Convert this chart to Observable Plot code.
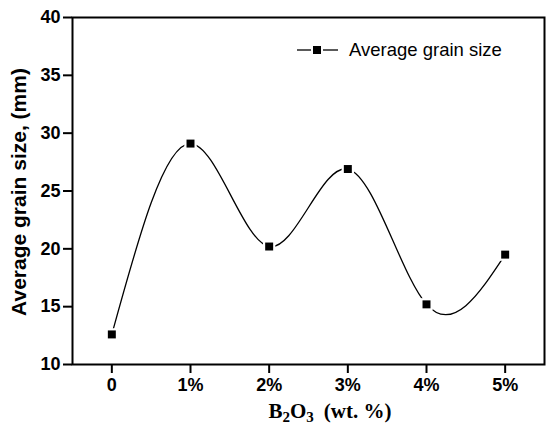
<!DOCTYPE html>
<html>
<head>
<meta charset="utf-8">
<script src="https://cdn.jsdelivr.net/npm/d3@7"></script>
<script src="https://cdn.jsdelivr.net/npm/@observablehq/plot@0.6"></script>
<style>
  body { margin: 0; background: white; }
</style>
</head>
<body>
<div id="chart"></div>
<script>
// Contenido de B2O3 (posicion en el eje) y sus etiquetas
const pct = [0, 1, 2, 3, 4, 5]
const pctLabels = ["0", "1%", "2%", "3%", "4%", "5%"]
// Tamaño medio de grano (mm)
const grainSize = [12.6, 29.1, 20.2, 26.9, 15.2, 19.5]
const yTicks = [10, 15, 20, 25, 30, 35, 40]

const data = pct.map((x, i) => ({x, y: grainSize[i]}))

let chart = Plot.plot({
  width: 550,
  height: 429,
  marginLeft: 72,
  marginRight: 6,
  marginTop: 17,
  marginBottom: 65,
  style: {fontFamily: "'Liberation Sans', Arial, sans-serif", background: "white"},
  x: {domain: [-0.5, 5.5]},
  y: {domain: [10, 40]},
  marks: [
    Plot.axisY({ticks: yTicks, tickSize: 9, tickPadding: 3, fontSize: 18, fontWeight: "bold", strokeWidth: 2, label: null}),
    Plot.axisX({ticks: pct, tickFormat: d => pctLabels[d], tickSize: 9, tickPadding: 5, fontSize: 18, fontWeight: "bold", strokeWidth: 2, label: null}),
    // curva spline como en Origin
    Plot.line(data, {x: "x", y: "y", curve: "natural", stroke: "black", strokeWidth: 1.3}),
    // hueco blanco alrededor de los marcadores
    Plot.dot(data, {x: "x", y: "y", symbol: "square", r: 7, fill: "white"}),
    Plot.dot(data, {x: "x", y: "y", symbol: "square", r: 4.5, fill: "black"}),
    Plot.frame({stroke: "black", strokeWidth: 2})
  ]
})

const svg = d3.select(chart)

// Leyenda
const leg = svg.append("g")
leg.append("line").attr("x1", 297).attr("x2", 311).attr("y1", 50).attr("y2", 50).attr("stroke", "black").attr("stroke-width", 1.3)
leg.append("line").attr("x1", 323).attr("x2", 338).attr("y1", 50).attr("y2", 50).attr("stroke", "black").attr("stroke-width", 1.3)
leg.append("rect").attr("x", 313).attr("y", 46).attr("width", 8).attr("height", 8).attr("fill", "black")
leg.append("text").attr("x", 349).attr("y", 50).attr("dy", "0.35em")
  .attr("text-anchor", "start")
  .style("font-size", "18.5px").style("font-family", "'Liberation Sans', Arial, sans-serif")
  .text("Average grain size")

// Titulo eje Y
svg.append("text")
  .attr("transform", "translate(19,192) rotate(-90)")
  .attr("text-anchor", "middle").attr("dy", "0.35em")
  .style("font-size", "21px").style("font-weight", "bold")
  .style("font-family", "'Liberation Sans', Arial, sans-serif")
  .text("Average grain size, (mm)")

// Titulo eje X con subindices
const xl = svg.append("text")
  .attr("x", 330).attr("y", 418)
  .attr("text-anchor", "middle")
  .style("font-size", "21px").style("font-weight", "bold")
  .style("font-family", "'Liberation Serif', 'Times New Roman', serif")
xl.append("tspan").text("B")
xl.append("tspan").attr("dy", 4).style("font-size", "15px").text("2")
xl.append("tspan").attr("dy", -4).text("O")
xl.append("tspan").attr("dy", 4).style("font-size", "15px").text("3")
xl.append("tspan").attr("dy", -4).attr("dx", 10).text("(wt. %)")

d3.select('#chart').append(() => chart)
</script>
</body>
</html>
